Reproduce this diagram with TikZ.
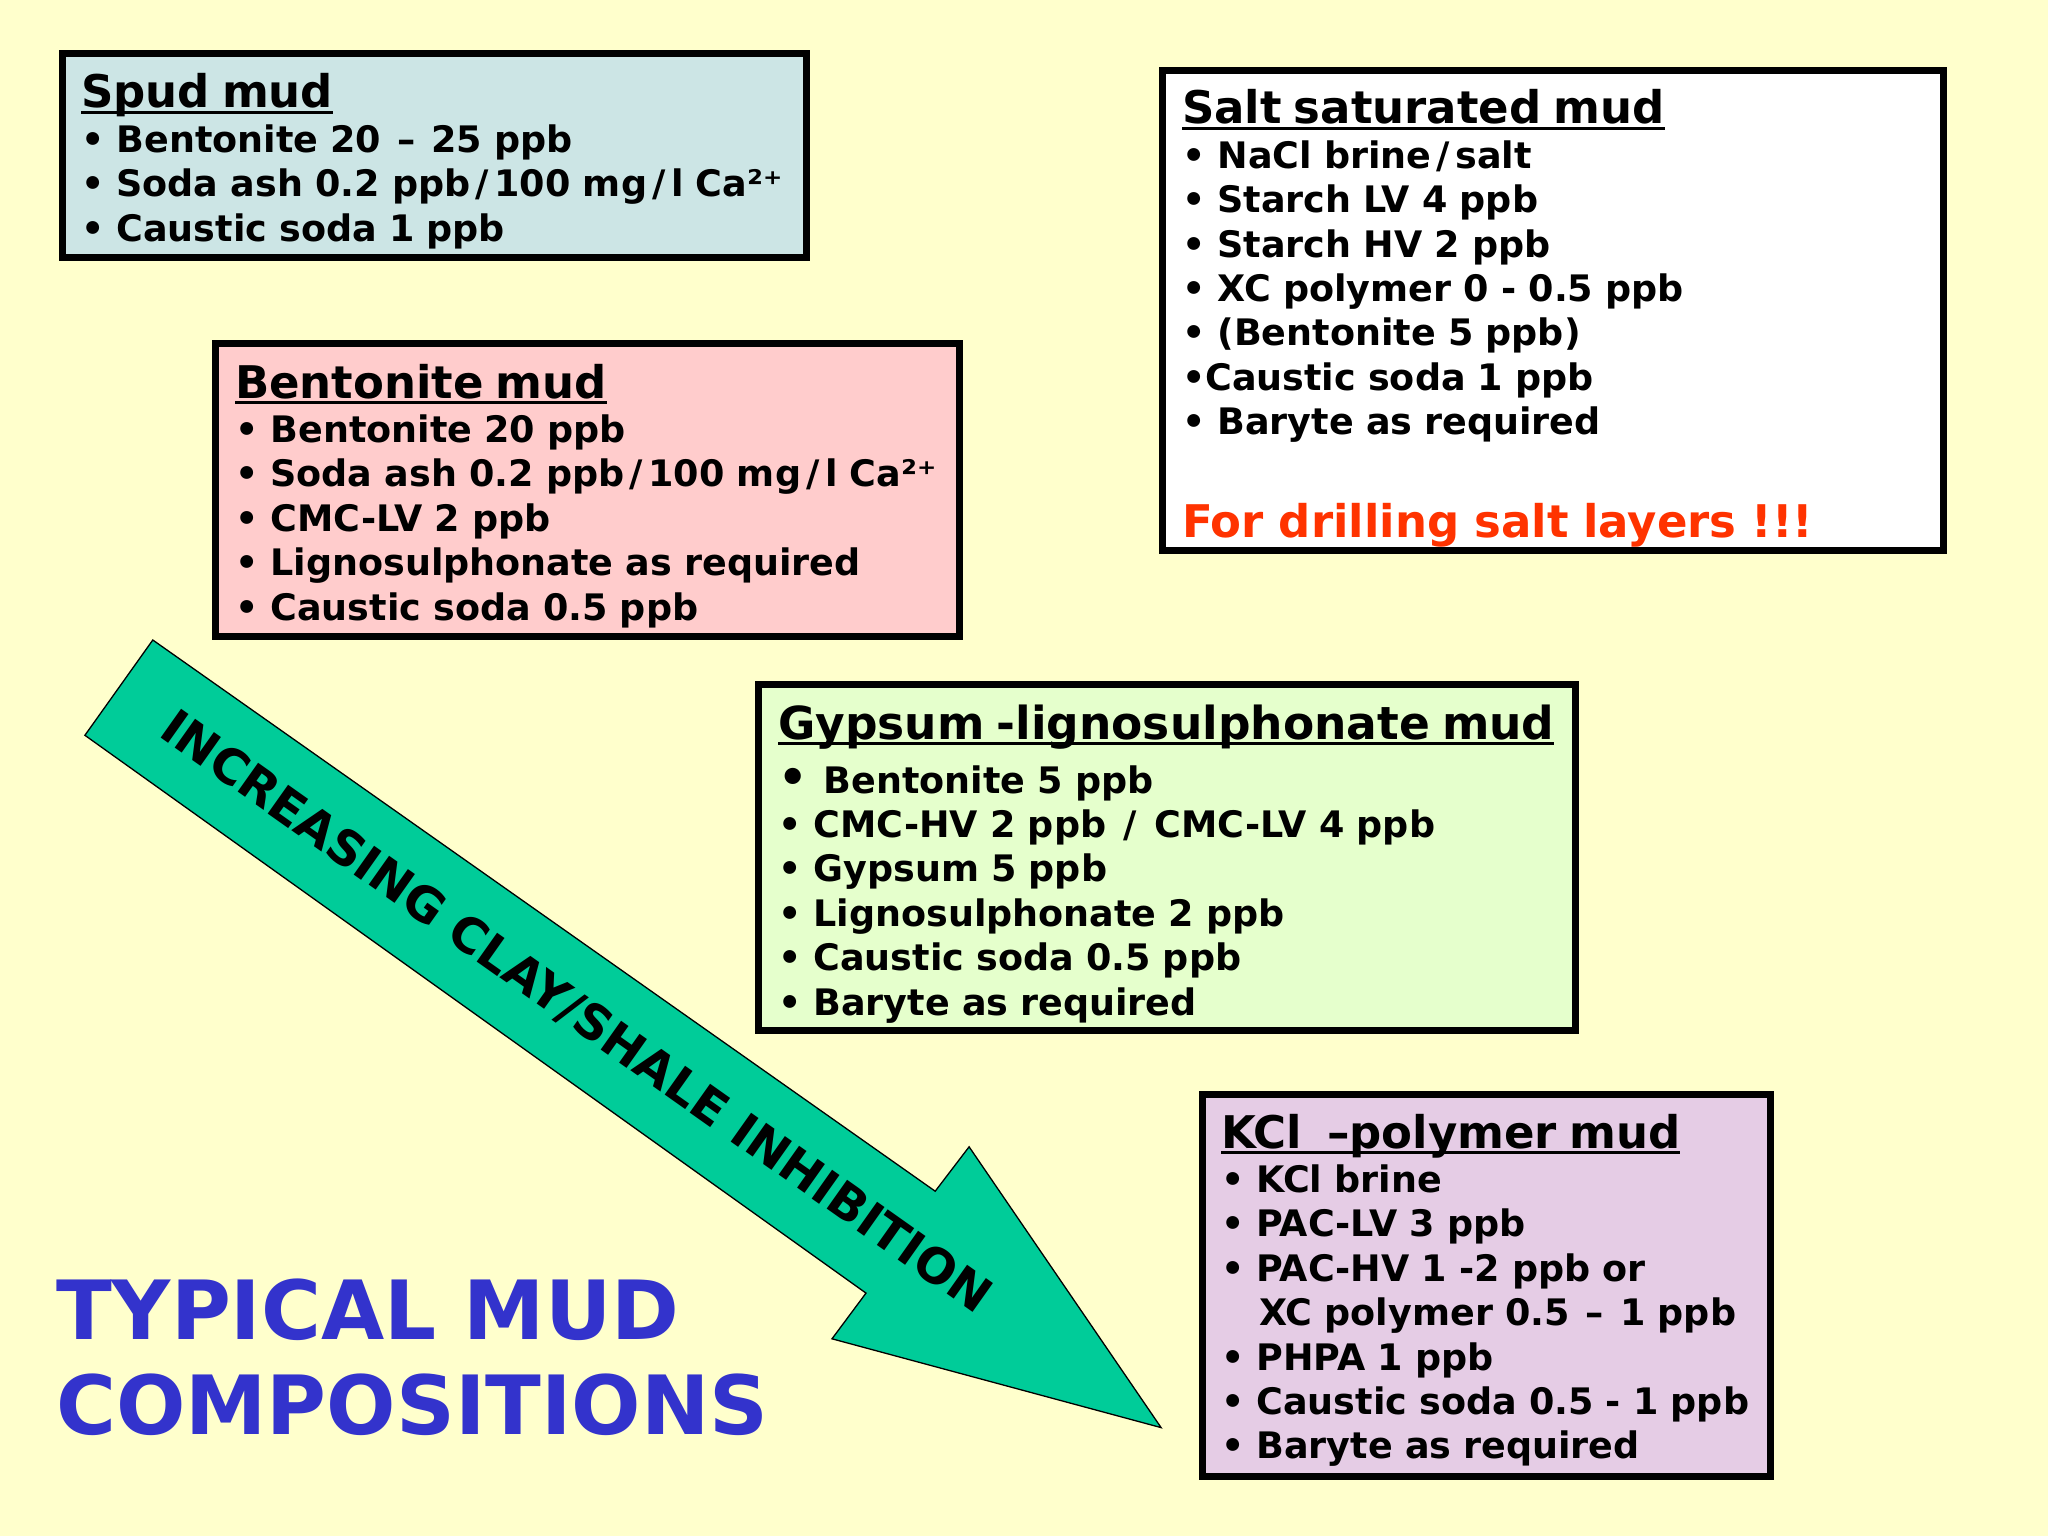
\documentclass[tikz,border=0pt]{standalone}
\usepackage{fontspec}
\setmainfont{DejaVu Sans}
\definecolor{bg}{HTML}{FFFFCC}
\definecolor{spudc}{HTML}{CCE5E5}
\definecolor{bentc}{HTML}{FFCCCC}
\definecolor{gypc}{HTML}{E5FFCC}
\definecolor{kclc}{HTML}{E5CCE5}
\definecolor{arrowc}{HTML}{00CC99}
\definecolor{titlec}{HTML}{3333CC}
\definecolor{redc}{HTML}{FF3300}
\newlength\ulwd
\newcommand\ulin[1]{\settowidth\ulwd{#1}\rlap{\rule[-0.13em]{\ulwd}{0.06em}}#1}
\newcommand\ttl[1]{{\fontsize{45}{44.4}\selectfont\ulin{#1}}}
\newcommand\slsh{\makebox[0.66em]{/}}
\newcommand\wdash{\makebox[0.71em]{–}}
\tikzset{
  mudbox/.style={draw=black, line width=7pt, inner sep=0pt, outer sep=0pt, anchor=north west},
  mudtext/.style={anchor=base west, inner sep=0pt, outer sep=0pt, align=left, text width=900pt,
    font=\bfseries\fontsize{36.5}{44.4}\selectfont},
  arrowshape/.style={draw=black, line width=1.3pt, fill=arrowc, line join=miter},
}
\begin{document}
\begin{tikzpicture}[x=1pt,y=-1pt]
\useasboundingbox[fill=bg] (0,0) rectangle (2048,1536);

% boxes
\node[mudbox, fill=spudc, minimum width=744pt, minimum height=204.6pt] (spud) at (62.3,53.1) {};
\node[mudbox, fill=bentc, minimum width=744pt, minimum height=293.4pt] (bent) at (215.1,343.1) {};
\node[mudbox, fill=white, minimum width=781.9pt, minimum height=480.2pt] (salt) at (1162,70.1) {};
\node[mudbox, fill=gypc, minimum width=817.2pt, minimum height=346.9pt] (gyp) at (758.4,684) {};
\node[mudbox, fill=kclc, minimum width=567.7pt, minimum height=382.2pt] (kcl) at (1202.5,1094.1) {};

% texts
\node[mudtext] (spudtxt) at (81,108) {\ttl{Spud mud}\\
• Bentonite 20 \wdash{} 25 ppb\\
• Soda ash 0.2 ppb\slsh100 mg\slsh l Ca²⁺\\
• Caustic soda 1 ppb};

\node[mudtext] (benttxt) at (235,398) {\ttl{Bentonite mud}\\
• Bentonite 20 ppb\\
• Soda ash 0.2 ppb\slsh100 mg\slsh l Ca²⁺\\
• CMC-LV 2 ppb\\
• Lignosulphonate as required\\
• Caustic soda 0.5 ppb};

\node[mudtext] (salttxt) at (1182,124) {\ttl{Salt saturated mud}\\
• NaCl brine\slsh salt\\
• Starch LV 4 ppb\\
• Starch HV 2 ppb\\
• XC polymer 0 - 0.5 ppb\\
• (Bentonite 5 ppb)\\
•Caustic soda 1 ppb\\
• Baryte as required};
\node[mudtext, text=redc, font=\bfseries\fontsize{45}{44.4}\selectfont] (salttag) at (1182,537) {For drilling salt layers !!!};

\node[mudtext] (gyptxt) at (778,739) {{\fontsize{45.5}{44.4}\selectfont\ulin{Gypsum -lignosulphonate mud}}\\[9.6pt]
{\fontsize{46}{44.4}\selectfont •}\hspace{0.45em}Bentonite 5 ppb\\
• CMC-HV 2 ppb \slsh{} CMC-LV 4 ppb\\
• Gypsum 5 ppb\\
• Lignosulphonate 2 ppb\\
• Caustic soda 0.5 ppb\\
• Baryte as required};

\node[mudtext] (kcltxt) at (1221,1148) {\ttl{KCl\hspace{0.55em}–polymer mud}\\
• KCl brine\\
• PAC-LV 3 ppb\\
• PAC-HV 1 -2 ppb or\\
\hspace*{38pt}XC polymer 0.5 \wdash{} 1 ppb\\
• PHPA 1 ppb\\
• Caustic soda 0.5 - 1 ppb\\
• Baryte as required};

% arrow
\coordinate (a1) at (152.8,640);
\coordinate (a2) at (935.2,1191.2);
\coordinate (a3) at (969.1,1146.8);
\coordinate (a4) at (1161.1,1427.6);
\coordinate (a5) at (832.0,1338.8);
\coordinate (a6) at (866.0,1293.1);
\coordinate (a7) at (84.9,735.3);
\draw[arrowshape] (a1)--(a2)--(a3)--(a4)--(a5)--(a6)--(a7)--cycle;
\node[rotate=-35.3, inner sep=0pt, font=\bfseries\fontsize{48.5}{49}\selectfont] (arrowtxt) at (576,1012.5) {INCREASING CLAY/SHALE INHIBITION};

% main title
\node[anchor=base west, inner sep=0pt, align=left, text width=900pt, text=titlec,
  font=\bfseries\fontsize{81.7}{95}\selectfont] (maintitle) at (56,1339) {TYPICAL MUD\\COMPOSITIONS};
\end{tikzpicture}
\end{document}
